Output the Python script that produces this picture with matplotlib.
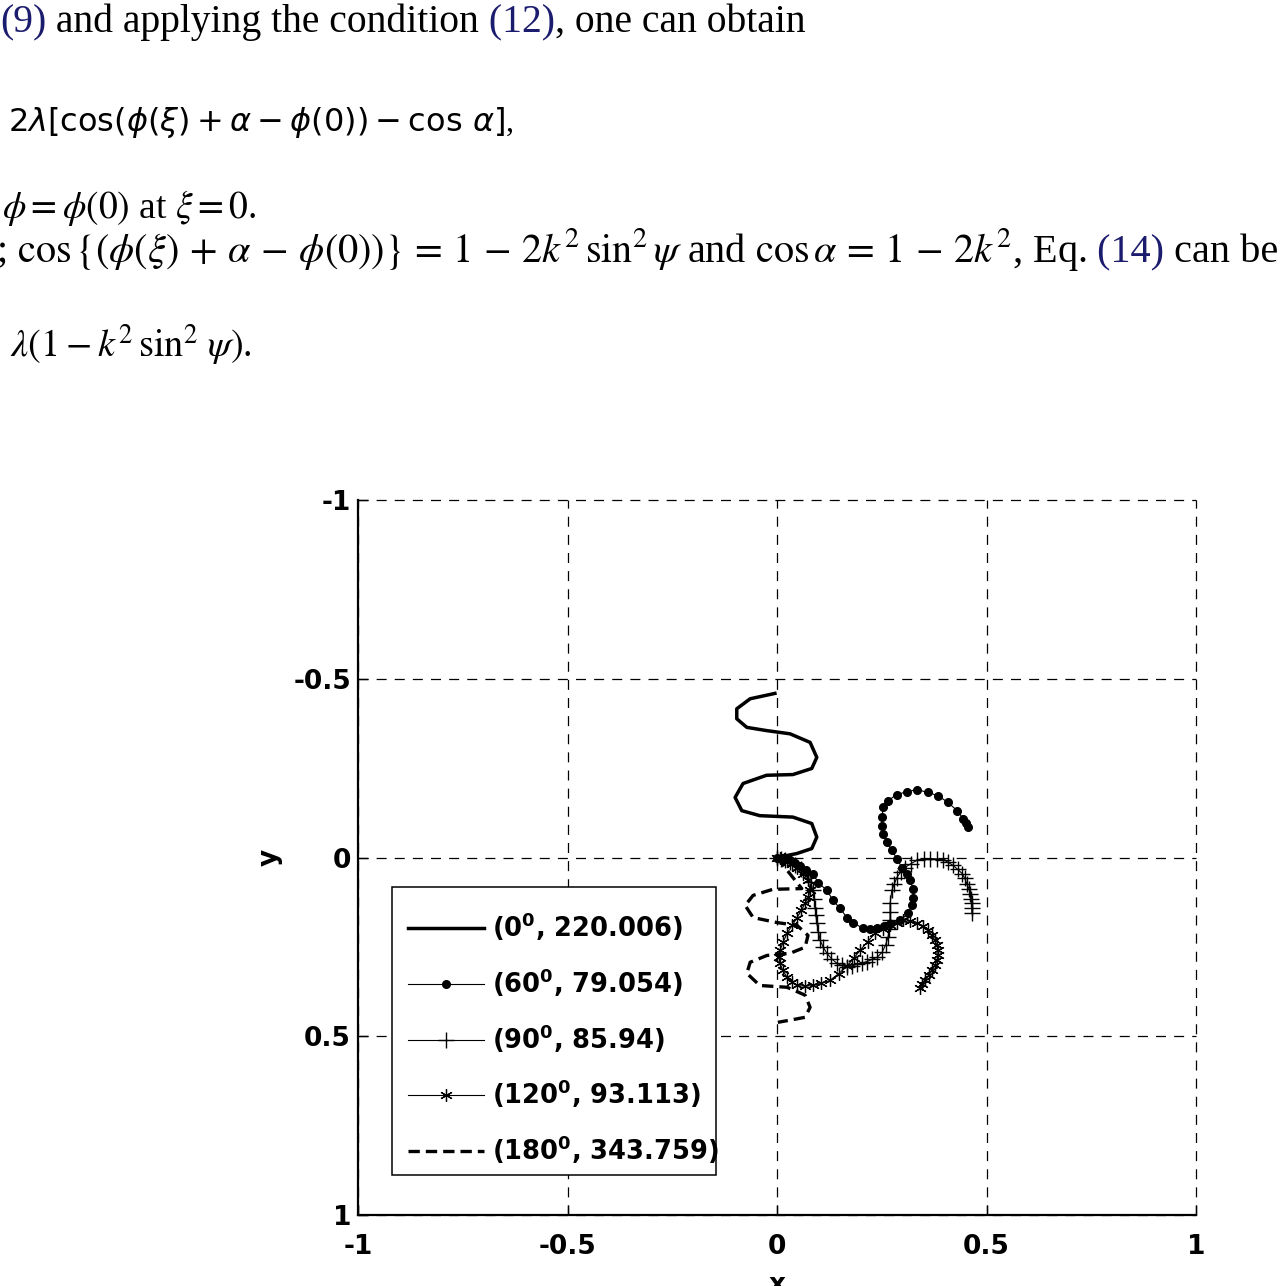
import matplotlib
matplotlib.use('Agg')
import matplotlib.pyplot as plt
from matplotlib.patches import Rectangle

plt.rcParams['mathtext.fontset'] = 'custom'
plt.rcParams['mathtext.rm'] = 'DejaVu Sans:bold'
plt.rcParams['mathtext.bf'] = 'DejaVu Sans:bold'
plt.rcParams['mathtext.it'] = 'DejaVu Sans:bold:italic'

W, H = 1285, 1286

# ---- data (x, y) ----
x_0 = [-0.005, -0.064, -0.096, -0.096, -0.072, -0.025, 0.031, 0.079, 0.095, 0.083, 0.038,
       -0.025, -0.081, -0.100, -0.084, -0.041, 0.038, 0.083, 0.095, 0.083, 0.047, 0.0]
y_0 = [-0.459, -0.444, -0.416, -0.388, -0.364, -0.355, -0.346, -0.322, -0.280, -0.249, -0.232,
       -0.230, -0.207, -0.168, -0.131, -0.117, -0.113, -0.095, -0.057, -0.025, -0.011, 0.0]

x_60 = [0.0, 0.012, 0.022, 0.031, 0.043, 0.055, 0.070, 0.086, 0.098, 0.119, 0.134, 0.150, 0.167,
        0.181, 0.205, 0.222, 0.239, 0.255, 0.270, 0.294, 0.313, 0.322, 0.325, 0.325, 0.317,
        0.310, 0.298, 0.286, 0.274, 0.263, 0.253, 0.251, 0.251, 0.253, 0.265, 0.286, 0.310,
        0.334, 0.360, 0.384, 0.408, 0.430, 0.444, 0.450, 0.456]
y_60 = [0.0, 0.002, 0.005, 0.008, 0.015, 0.025, 0.034, 0.045, 0.070, 0.092, 0.120, 0.142, 0.168,
        0.182, 0.198, 0.201, 0.198, 0.193, 0.187, 0.176, 0.156, 0.134, 0.112, 0.087, 0.064,
        0.045, 0.028, 0.003, -0.020, -0.042, -0.067, -0.089, -0.112, -0.140, -0.159, -0.176,
        -0.184, -0.190, -0.182, -0.173, -0.154, -0.131, -0.109, -0.097, -0.084]

x_90 = [0.0, 0.010, 0.020, 0.032, 0.043, 0.058, 0.072, 0.080, 0.086, 0.089, 0.091, 0.093, 0.095,
        0.099, 0.103, 0.110, 0.119, 0.130, 0.143, 0.155, 0.167, 0.180, 0.191, 0.203, 0.215,
        0.227, 0.239, 0.251, 0.259, 0.265, 0.268, 0.270, 0.270, 0.270, 0.274, 0.280, 0.286,
        0.295, 0.305, 0.320, 0.334, 0.350, 0.365, 0.381, 0.396, 0.408, 0.420, 0.431, 0.442,
        0.448, 0.453, 0.458, 0.461, 0.463, 0.465, 0.465, 0.465]
y_90 = [0.0, 0.004, 0.008, 0.013, 0.022, 0.032, 0.045, 0.068, 0.092, 0.116, 0.140, 0.162, 0.184,
        0.208, 0.232, 0.250, 0.268, 0.283, 0.296, 0.302, 0.307, 0.303, 0.299, 0.295, 0.291,
        0.285, 0.279, 0.265, 0.245, 0.223, 0.200, 0.176, 0.152, 0.128, 0.092, 0.074, 0.056,
        0.041, 0.028, 0.017, 0.008, 0.005, 0.003, 0.004, 0.006, 0.013, 0.022, 0.033, 0.045,
        0.058, 0.073, 0.087, 0.101, 0.115, 0.128, 0.142, 0.156]

x_120 = [0.0, 0.008, 0.016, 0.025, 0.036, 0.048, 0.062, 0.074, 0.079, 0.075, 0.067, 0.058, 0.048,
         0.036, 0.024, 0.015, 0.007, 0.005, 0.007, 0.014, 0.024, 0.035, 0.048, 0.067, 0.086,
         0.106, 0.126, 0.147, 0.167, 0.183, 0.198, 0.216, 0.234, 0.252, 0.270, 0.286, 0.301,
         0.318, 0.334, 0.348, 0.360, 0.370, 0.377, 0.382, 0.384, 0.384, 0.382, 0.377, 0.370,
         0.362, 0.353, 0.347, 0.341]
y_120 = [0.0, 0.002, 0.005, 0.010, 0.018, 0.028, 0.045, 0.064, 0.092, 0.110, 0.128, 0.148, 0.168,
         0.190, 0.212, 0.236, 0.260, 0.278, 0.296, 0.316, 0.335, 0.348, 0.358, 0.360, 0.358,
         0.352, 0.344, 0.325, 0.304, 0.282, 0.260, 0.236, 0.212, 0.200, 0.190, 0.182, 0.176,
         0.179, 0.184, 0.193, 0.204, 0.218, 0.232, 0.246, 0.260, 0.274, 0.288, 0.302, 0.316,
         0.330, 0.344, 0.355, 0.366]

x_180 = [0.0, 0.059, -0.010, -0.057, -0.076, -0.057, 0.0, 0.048, 0.074, 0.067, 0.031, -0.024,
         -0.064, -0.072, -0.041, 0.024, 0.067, 0.079, 0.067, 0.031, 0.002]
y_180 = [0.0, 0.087, 0.089, 0.106, 0.134, 0.168, 0.182, 0.190, 0.218, 0.251, 0.268, 0.274,
         0.293, 0.324, 0.358, 0.363, 0.385, 0.419, 0.447, 0.455, 0.461]

labels = [r'(0$^{0}$, 220.006)', r'(60$^{0}$, 79.054)', r'(90$^{0}$, 85.94)',
          r'(120$^{0}$, 93.113)', r'(180$^{0}$, 343.759)']
ticks = [-1, -0.5, 0, 0.5, 1]
tick_labels = ['-1', '-0.5', '0', '0.5', '1']

fig = plt.figure(figsize=(W / 100, H / 100), dpi=100)
renderer = fig.canvas.get_renderer()

# ---- page text above the chart ----
navy = '#1c1c6e'


def put_line(x0, base, pieces, size=28, math='stix'):
    # spaces go at the start of a piece: trailing ones are not measured
    x = x0
    for s, c in pieces:
        t = fig.text(x / W, 1 - base / H, s, color=c, math_fontfamily=math,
                     family='Liberation Serif', fontsize=size, va='baseline')
        x += t.get_window_extent(renderer).width


put_line(0, 32, [('(9)', navy), (' and applying the condition', 'k'),
                 (' (12)', navy), (', one can obtain', 'k')], size=28.5)
put_line(8, 131, [(r'$2\lambda[\cos(\phi(\xi)+\alpha-\phi(0))-\cos\,\alpha]$,', 'k')],
         size=23, math='dejavusans')
put_line(2, 218, [(r'$\phi=\phi(0)$ at $\xi=0$.', 'k')], size=27)
put_line(-4, 262, [(r'; $\cos\{(\phi(\xi)\,+\,\alpha\,-\,\phi(0))\}\,=\,1\,-\,2k^2\,\sin^2\psi$ and '
                    r'$\cos\alpha\,=\,1\,-\,2k^2$, Eq.', 'k'),
                   (' (14)', navy), (' can be transfor', 'k')], size=29)
put_line(10, 357, [(r'$\lambda(1-k^2\,\sin^2\,\psi)$.', 'k')], size=27.5)

# ---- chart ----
ax = fig.add_axes([358 / W, 71 / H, 838 / W, 715 / H])

ax.plot(x_0, y_0, '-', color='k', lw=2.5, label=labels[0])
ax.plot(x_60, y_60, '-', color='k', lw=0.8, marker='o', ms=5.5, label=labels[1])
ax.plot(x_90, y_90, '-', color='k', lw=0.8, marker='+', ms=11, mew=1.0, label=labels[2])
ax.plot(x_120, y_120, '-', color='k', lw=0.8, marker=(6, 2, 0), ms=9, mew=0.9, label=labels[3])
ax.plot(x_180, y_180, '--', color='k', lw=2.4, dashes=(3.4, 1.8), label=labels[4])

ax.set_xlim(-1, 1)
ax.set_ylim(1, -1)
ax.set_xticks(ticks)
ax.set_yticks(ticks)
tick_font = dict(fontsize=19, fontweight='bold', family='DejaVu Sans')
ax.set_xticklabels(tick_labels, **tick_font)
ax.set_yticklabels(tick_labels, **tick_font)
ax.tick_params(direction='in', length=7, width=1)
ax.tick_params(axis='x', pad=14)
ax.tick_params(axis='y', pad=5)
ax.grid(True, color='k', lw=0.9, linestyle=(0, (8, 6.5)))
for gl in ax.get_xgridlines() + ax.get_ygridlines():
    gl.set_clip_on(False)
ax.spines['top'].set_visible(False)
ax.spines['right'].set_visible(False)
ax.spines['left'].set_linewidth(1.6)
ax.spines['bottom'].set_linewidth(1.6)

ax.set_xlabel('x', labelpad=8, **tick_font)
ax.set_ylabel('y', labelpad=8, **tick_font)

# legend box drawn separately: the longest label runs right up to the frame
box = Rectangle((34 / 838, 40 / 715), 324 / 838, 288 / 715, transform=ax.transAxes,
                facecolor='white', edgecolor='k', lw=1.1, zorder=4)
ax.add_patch(box)
leg = ax.legend(loc='upper left', bbox_to_anchor=(34 / 838, (1215 - 895) / 715),
                borderaxespad=0, frameon=False,
                prop=dict(family='DejaVu Sans', weight='bold', size=18.5),
                handlelength=2.95, handletextpad=0.31, labelspacing=0.9, borderpad=0.62)
leg.set_zorder(5)

fig.savefig('out.png', dpi=100)
